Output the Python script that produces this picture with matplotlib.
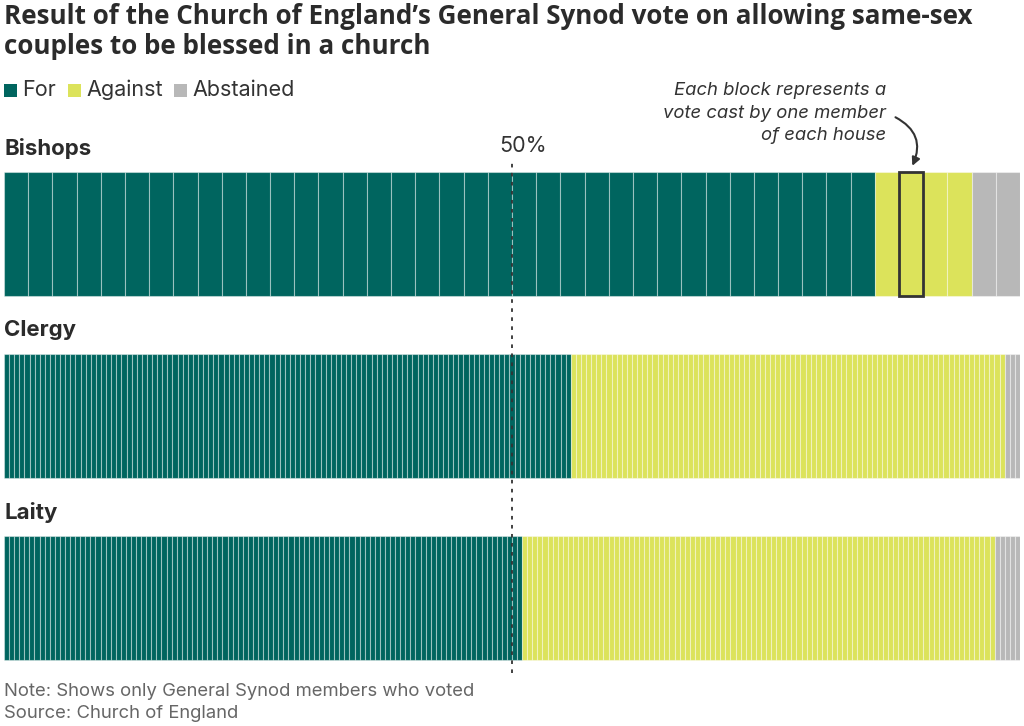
import matplotlib
matplotlib.use("Agg")
import matplotlib.pyplot as plt
from matplotlib.patches import Rectangle

houses = ["Bishops", "Clergy", "Laity"]
for_votes = [36, 111, 102]
against_votes = [4, 85, 93]
abstained_votes = [2, 3, 5]
categories = ["For", "Against", "Abstained"]
colors = ["#00655f", "#dce35b", "#b8b8b8"]

W, H = 1024, 726
fig = plt.figure(figsize=(W / 100, H / 100), dpi=100)
plt.rcParams['font.family'] = ['Inter', 'DejaVu Sans']

def fx(x):
    return x / W

def fy(y):
    return 1 - y / H

# Title
fig.text(fx(4), fy(17), "Result of the Church of England\u2019s General Synod vote on allowing same-sex",
         ha='left', va='center', fontsize=18.7, fontweight='bold', color='#2b2b2b',
         family=['Open Sans', 'DejaVu Sans'])
fig.text(fx(4), fy(47), "couples to be blessed in a church",
         ha='left', va='center', fontsize=18.7, fontweight='bold', color='#2b2b2b',
         family=['Open Sans', 'DejaVu Sans'])

# Legend
lx = [4, 68, 174]
for x0, lab, c in zip(lx, categories, colors):
    fig.patches.append(Rectangle((fx(x0), fy(97)), 13 / W, 13 / H, transform=fig.transFigure,
                                 facecolor=c, edgecolor='none'))
    fig.text(fx(x0 + 18), fy(90), lab, ha='left', va='center', fontsize=15.5, color='#333333')

# Bars axes
top_px, bot_px = 160, 673
ax = fig.add_axes([fx(4), fy(bot_px), (1020 - 4) / W, (bot_px - top_px) / H])
bar_h = 124 / 182
centers = [0, 1, 2]
ylo = -((234 - top_px) / 182)
yhi = 2 + (bot_px - 598) / 182
ax.set_ylim(yhi, ylo)
ax.set_xlim(0, 1)
ax.axis('off')

for i, house in enumerate(houses):
    counts = [for_votes[i], against_votes[i], abstained_votes[i]]
    total = sum(counts)
    k = 0
    for cnt, c in zip(counts, colors):
        lefts = [(k + j) / total for j in range(cnt)]
        ax.barh([centers[i]] * cnt, [1 / total] * cnt, left=lefts, height=bar_h,
                color=c, edgecolor=(1, 1, 1, 0.4), linewidth=0.8)
        k += cnt
    ax.annotate(house, xy=(0, centers[i] - bar_h / 2), xycoords='data',
                xytext=(0, 17), textcoords='offset points', ha='left', va='center',
                fontsize=16, fontweight='bold', color='#2b2b2b', annotation_clip=False)

# Highlighted block in Bishops (second 'Against' block)
tot_b = for_votes[0] + against_votes[0] + abstained_votes[0]
ax.add_patch(Rectangle(((for_votes[0] + 1) / tot_b, centers[0] - bar_h / 2), 1 / tot_b, bar_h,
                       facecolor='none', edgecolor='#333333', linewidth=2, zorder=5))

# 50% line
ax.axvline(0.5, color='#333333', linestyle=(0, (2, 3)), linewidth=1.3, zorder=6)
ax.annotate("50%", xy=(0.5, ylo), xycoords='data', xytext=(-9.5, 3), textcoords='offset points',
            ha='left', va='bottom', fontsize=15.5, color='#333333', annotation_clip=False)

# Annotation
fig.text(fx(886), fy(113), "Each block represents a\nvote cast by one member\nof each house",
         ha='right', va='center', fontsize=13.3, style='italic', color='#333333',
         linespacing=1.4)
ax.annotate("", xy=((for_votes[0] + 1.5) / tot_b, centers[0] - bar_h / 2 - 0.02), xycoords='data',
            xytext=(fx(893), fy(116)), textcoords='figure fraction',
            arrowprops=dict(arrowstyle='-|>', color='#333333', lw=1.5,
                            connectionstyle='arc3,rad=-0.5', mutation_scale=12))

# Footnote
fig.text(fx(4), fy(692), "Note: Shows only General Synod members who voted",
         ha='left', va='center', fontsize=13.3, color='#666666')
fig.text(fx(4), fy(714), "Source: Church of England",
         ha='left', va='center', fontsize=13.3, color='#666666')

fig.savefig("out.png", dpi=100)
